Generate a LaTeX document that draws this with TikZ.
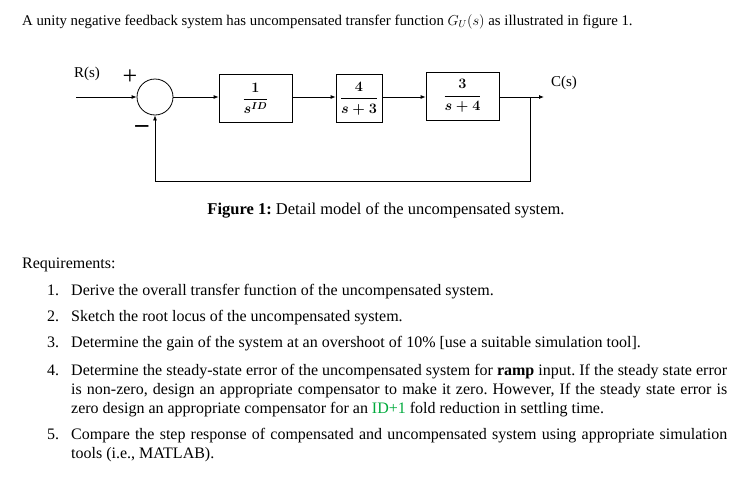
\documentclass[tikz,border=0pt]{standalone}
\usepackage{amsmath}
\usepackage{fontspec}
\setmainfont{Liberation Serif}
\usetikzlibrary{arrows.meta}
\definecolor{idgreen}{RGB}{0,170,60}
\frenchspacing
\begin{document}
\begin{tikzpicture}[x=1pt,y=-1pt,
  txt/.style={anchor=base west,inner sep=0pt,font=\fontsize{16}{18}\selectfont},
  lbl/.style={inner sep=0pt,font=\fontsize{15}{17}\selectfont},
  blk/.style={draw,line width=0.8pt,minimum height=48pt,inner sep=0pt,font=\fontsize{14}{16}\selectfont\boldmath},
  sig/.style={line width=0.8pt,-{Latex[length=5pt,width=4pt]}}]
\useasboundingbox (0,0) rectangle (746,482);
\node[txt,font=\fontsize{14.8}{17}\selectfont] (t0) at (22,25) {A unity negative feedback system has uncompensated transfer function $G_U(s)$ as illustrated in figure 1.};
% diagram
\node[draw,circle,line width=0.8pt,minimum size=36pt,inner sep=0pt] (sum) at (155,97) {};
\node[blk,minimum width=73pt] (b1) at (255.5,98.5) {$\dfrac{\mathbf{1}}{s^{ID}}$};
\node[blk,minimum width=46pt] (b2) at (359,98.5) {$\dfrac{\mathbf{4}}{s+3}$};
\node[blk,minimum width=73pt] (b3) at (462.5,96) {$\dfrac{\mathbf{3}}{s+4}$};
\coordinate (in) at (76,97);
\coordinate (br) at (530,97);
\coordinate (out) at (544,97);
\coordinate (fb) at (530,181);
\coordinate (fb2) at (155,181);
\draw[sig] (in) -- (sum.west);
\draw[sig] (sum.east) -- (b1.west |- sum.east);
\draw[sig] (b1.east |- sum.east) -- (b2.west |- sum.east);
\draw[sig] (b2.east |- sum.east) -- (b3.west |- sum.east);
\draw[sig] (b3.east |- sum.east) -- (out);
\draw[sig] (br) -- (fb) -- (fb2) -- (sum.south);
\node[lbl] (r) at (87,74) {R(s)};
\node[lbl] (c) at (564,83) {C(s)};
\node[font=\fontsize{26}{26}\selectfont,inner sep=0pt] (plus) at (130,77) {+};
\node[font=\fontsize{26}{26}\selectfont,inner sep=0pt] (minus) at (142,129) {\textbf{\textendash}};
\node[lbl,font=\fontsize{16.5}{18}\selectfont] (cap) at (386,211) {\textbf{Figure 1:} Detail model of the uncompensated system.};
% requirements
\node[txt] (rq) at (22,268) {Requirements:};
\node[txt] (n1) at (47,295) {1.};
\node[txt] (i1) at (71,295) {Derive the overall transfer function of the uncompensated system.};
\node[txt] (n2) at (47,321) {2.};
\node[txt] (i2) at (71,321) {Sketch the root locus of the uncompensated system.};
\node[txt] (n3) at (47,347) {3.};
\node[txt] (i3) at (71,347) {Determine the gain of the system at an overshoot of 10\% [use a suitable simulation tool].};
\node[txt] (n4) at (47,375) {4.};
\node[txt] (i4a) at (71,375) {\makebox[656pt][s]{Determine the steady-state error of the uncompensated system for \textbf{ramp} input. If the steady state error}};
\node[txt] (i4b) at (71,394) {\makebox[656pt][s]{is non-zero, design an appropriate compensator to make it zero. However, If the steady state error is}};
\node[txt] (i4c) at (71,413) {zero design an appropriate compensator for an \textcolor{idgreen}{ID+1} fold reduction in settling time.};
\node[txt] (n5) at (47,439) {5.};
\node[txt] (i5a) at (71,439) {\makebox[656pt][s]{Compare the step response of compensated and uncompensated system using appropriate simulation}};
\node[txt] (i5b) at (71,458) {tools (i.e., MATLAB).};
\end{tikzpicture}
\end{document}
